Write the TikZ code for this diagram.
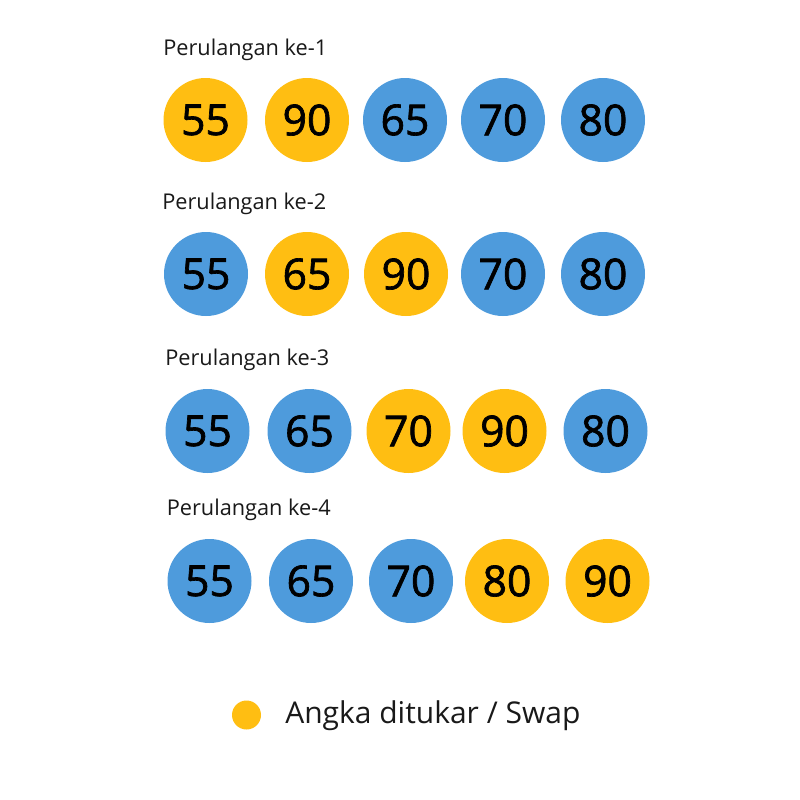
\documentclass[tikz,border=0pt]{standalone}
\usepackage{fontspec}
\setmainfont{Open Sans}
\newfontfamily\digitfont[FakeBold=1.6]{Open Sans}
\definecolor{swapyellow}{HTML}{FFBE12}
\definecolor{keepblue}{HTML}{4E9BDC}

\begin{document}
\begin{tikzpicture}[x=0.75pt, y=-0.75pt,
        ball/.style={circle, inner sep=0pt, minimum size=63pt, font=\digitfont\fontsize{32}{36}\selectfont},
        swap/.style={ball, fill=swapyellow},
        keep/.style={ball, fill=keepblue},
        round/.style={anchor=base west, inner sep=0pt, font=\fontsize{16.3}{19}\selectfont, text=black!90}]
    \useasboundingbox (0, 0) rectangle (800, 800);

    \node[round] (r1) at (163, 55) {Perulangan ke-1};
    \node[swap] (a1) at (205.5, 120) {55};
    \node[swap] (a2) at (307, 120) {90};
    \node[keep] (a3) at (405, 120) {65};
    \node[keep] (a4) at (503, 120) {70};
    \node[keep] (a5) at (603, 120) {80};

    \node[round] (r2) at (162, 209) {Perulangan ke-2};
    \node[keep] (b1) at (206, 274) {55};
    \node[swap] (b2) at (307, 274) {65};
    \node[swap] (b3) at (406, 274) {90};
    \node[keep] (b4) at (503, 274) {70};
    \node[keep] (b5) at (603, 274) {80};

    \node[round] (r3) at (165, 365.5) {Perulangan ke-3};
    \node[keep] (c1) at (207.5, 431) {55};
    \node[keep] (c2) at (309.5, 431) {65};
    \node[swap] (c3) at (408.5, 431) {70};
    \node[swap] (c4) at (504.5, 431) {90};
    \node[keep] (c5) at (605.5, 431) {80};

    \node[round] (r4) at (166.5, 515) {Perulangan ke-4};
    \node[keep] (d1) at (209.5, 581) {55};
    \node[keep] (d2) at (311, 581) {65};
    \node[keep] (d3) at (411, 581) {70};
    \node[swap] (d4) at (507, 581) {80};
    \node[swap] (d5) at (607.5, 581) {90};

    \node[circle, inner sep=0pt, minimum size=21.75pt, fill=swapyellow] (key) at (246.5, 715) {};
    \node[anchor=base west, inner sep=0pt, font=\fontsize{22.5}{27}\selectfont, text=black!90] (keytext) at (285, 723.5) {Angka ditukar / Swap};
\end{tikzpicture}
\end{document}
